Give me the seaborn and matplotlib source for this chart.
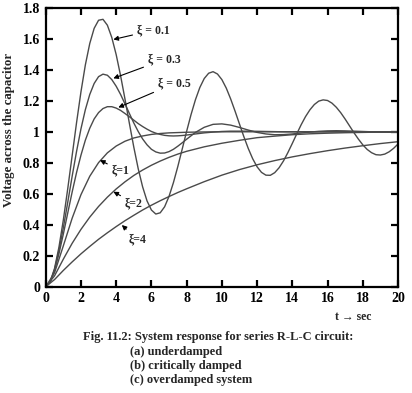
import numpy as np
import pandas as pd
import matplotlib
matplotlib.use("Agg")
import matplotlib.pyplot as plt
import seaborn as sns

# ---- data ----
t_quarter = np.arange(0, 20.001, 0.25)
t_dense8 = np.concatenate([np.arange(0, 7.801, 0.25), np.arange(8, 20.001, 0.5)])
t_mixed = np.concatenate([np.arange(0, 8.001, 0.5), np.arange(9, 20.001, 1.0)])

v_xi01 = [0.000, 0.031, 0.118, 0.255, 0.431, 0.633, 0.846, 1.059, 1.258, 1.432,
          1.570, 1.668, 1.720, 1.726, 1.688, 1.609, 1.498, 1.362, 1.211, 1.054,
          0.901, 0.762, 0.645, 0.554, 0.495, 0.469, 0.477, 0.516, 0.583, 0.672,
          0.776, 0.889, 1.003, 1.111, 1.207, 1.286, 1.344, 1.378, 1.388, 1.373,
          1.337, 1.282, 1.212, 1.133, 1.050, 0.968, 0.892, 0.826, 0.774, 0.738,
          0.720, 0.719, 0.736, 0.768, 0.812, 0.866, 0.925, 0.986, 1.045, 1.098,
          1.142, 1.176, 1.198, 1.206, 1.202, 1.185, 1.158, 1.123, 1.082, 1.038,
          0.994, 0.953, 0.916, 0.886, 0.865, 0.852, 0.850, 0.856, 0.871, 0.893,
          0.921]
v_xi03 = [0.000, 0.030, 0.111, 0.233, 0.381, 0.545, 0.713, 0.873, 1.019, 1.143,
          1.241, 1.312, 1.356, 1.372, 1.365, 1.337, 1.294, 1.241, 1.180, 1.118,
          1.057, 1.002, 0.954, 0.916, 0.887, 0.870, 0.862, 0.863, 0.872, 0.887,
          0.907, 0.929,
          0.952, 0.996, 1.029, 1.048, 1.051, 1.043, 1.028, 1.011, 0.996, 0.986,
          0.981, 0.982, 0.986, 0.992, 0.998, 1.003, 1.006, 1.007, 1.006, 1.004,
          1.002, 1.000, 0.998, 0.997, 0.997]
v_xi05 = [0.000, 0.029, 0.104, 0.213, 0.340, 0.476, 0.611, 0.737, 0.849, 0.946,
          1.023, 1.083, 1.124, 1.150, 1.162, 1.162, 1.153, 1.138, 1.118, 1.097,
          1.075, 1.053, 1.034, 1.017, 1.002, 0.991, 0.983, 0.977, 0.974, 0.973,
          0.974, 0.976,
          0.979, 0.986, 0.993, 0.998, 1.002, 1.004, 1.004, 1.004, 1.003, 1.002,
          1.001, 1.000, 1.000, 1.000, 1.000, 1.000, 1.000, 1.000, 1.000, 1.000,
          1.000, 1.000, 1.000, 1.000, 1.000]
v_xi1 = [0.000, 0.090, 0.264, 0.442, 0.594, 0.713, 0.801, 0.864, 0.908, 0.939,
         0.960, 0.973, 0.983, 0.989, 0.993, 0.995, 0.997, 0.999, 1.000, 1.000,
         1.000, 1.000, 1.000, 1.000, 1.000, 1.000, 1.000, 1.000, 1.000]
v_xi2 = [0.000, 0.070, 0.178, 0.280, 0.370, 0.449, 0.518, 0.578, 0.631, 0.677,
         0.718, 0.753, 0.784, 0.811, 0.835, 0.856, 0.874, 0.903, 0.926, 0.945,
         0.962, 0.972, 0.981, 0.987, 0.991, 0.994, 0.996, 0.998, 0.999]
v_xi4 = [0.000, 0.046, 0.105, 0.160, 0.212, 0.260, 0.306, 0.348, 0.388, 0.426,
         0.461, 0.495, 0.526, 0.555, 0.582, 0.608, 0.632, 0.678, 0.720, 0.756,
         0.787, 0.814, 0.838, 0.859, 0.878, 0.895, 0.910, 0.924, 0.936]

series = [("ξ = 0.1", t_quarter, v_xi01), ("ξ = 0.3", t_dense8, v_xi03),
          ("ξ = 0.5", t_dense8, v_xi05), ("ξ=1", t_mixed, v_xi1),
          ("ξ=2", t_mixed, v_xi2), ("ξ=4", t_mixed, v_xi4)]

# label text position, arrow tip (data coords)
label_pos = {"ξ = 0.1": ((5.19, 1.656), (3.84, 1.596)),
             "ξ = 0.3": ((5.81, 1.467), (3.84, 1.345)),
             "ξ = 0.5": ((6.38, 1.312), (4.12, 1.157)),
             "ξ=1": ((3.75, 0.748), (3.08, 0.817)),
             "ξ=2": ((4.50, 0.540), (3.84, 0.613)),
             "ξ=4": ((4.69, 0.306), (4.32, 0.398))}

x_ticks = [0, 2, 4, 6, 8, 10, 12, 14, 16, 18, 20]
y_ticks = [0, 0.2, 0.4, 0.6, 0.8, 1, 1.2, 1.4, 1.6, 1.8]
y_ticklabels = ["0", "0.2", "0.4", "0.6", "0.8", "1", "1.2", "1.4", "1.6", "1.8"]

df = pd.concat([pd.DataFrame({"t": t, "v": v, "s": name}) for name, t, v in series],
               ignore_index=True)

sns.set_style("ticks")
plt.rcParams["font.family"] = ["Liberation Serif", "DejaVu Serif"]
plt.rcParams["font.weight"] = "bold"
plt.rcParams["axes.labelweight"] = "bold"

fig = plt.figure(figsize=(4.12, 3.93), dpi=100)
ax = fig.add_axes([0.111, 0.2705, 0.855, 0.7095])

names = [s[0] for s in series]
sns.lineplot(data=df, x="t", y="v", hue="s", hue_order=names,
             palette=["#4a4a4a"] * len(names), estimator=None, sort=False,
             legend=False, linewidth=1.0, ax=ax)

ax.set_xlim(0, 20)
ax.set_ylim(0, 1.8)
ax.set_xticks(x_ticks)
ax.set_xticklabels([str(x) for x in x_ticks])
ax.set_yticks(y_ticks)
ax.set_yticklabels(y_ticklabels)
ax.tick_params(direction="in", length=5, width=1.6, top=True, right=True,
               labelsize=10, pad=4, colors="black")
for lab in ax.get_xticklabels() + ax.get_yticklabels():
    lab.set_fontweight("bold")
for sp in ax.spines.values():
    sp.set_linewidth(1.6)
    sp.set_color("black")
    sp.set_visible(True)

ax.set_xlabel("")
ax.set_ylabel("Voltage across the capacitor", fontsize=9.3, fontweight="bold")
ax.yaxis.set_label_coords(-0.088, 0.563)

for name, (txt, tip) in label_pos.items():
    ax.annotate(name, xy=tip, xytext=txt, fontsize=8.5, fontweight="bold",
                ha="left", va="center",
                arrowprops=dict(arrowstyle="-|>", color="black", lw=0.8,
                                mutation_scale=7, shrinkA=1, shrinkB=0))

fig.text(353 / 412, 1 - 316.5 / 393, "t → sec", ha="center", va="center",
         fontsize=8.5, fontweight="bold")
fig.text(218 / 412, 1 - 337 / 393, "Fig. 11.2: System response for series R-L-C circuit:",
         ha="center", va="center", fontsize=9, fontweight="bold")
for i, line in enumerate(["(a) underdamped", "(b) critically damped", "(c) overdamped system"]):
    fig.text(130 / 412, 1 - (352 + 14 * i) / 393, line, ha="left", va="center",
             fontsize=9, fontweight="bold")

fig.savefig("out.png", dpi=100, facecolor="white")
